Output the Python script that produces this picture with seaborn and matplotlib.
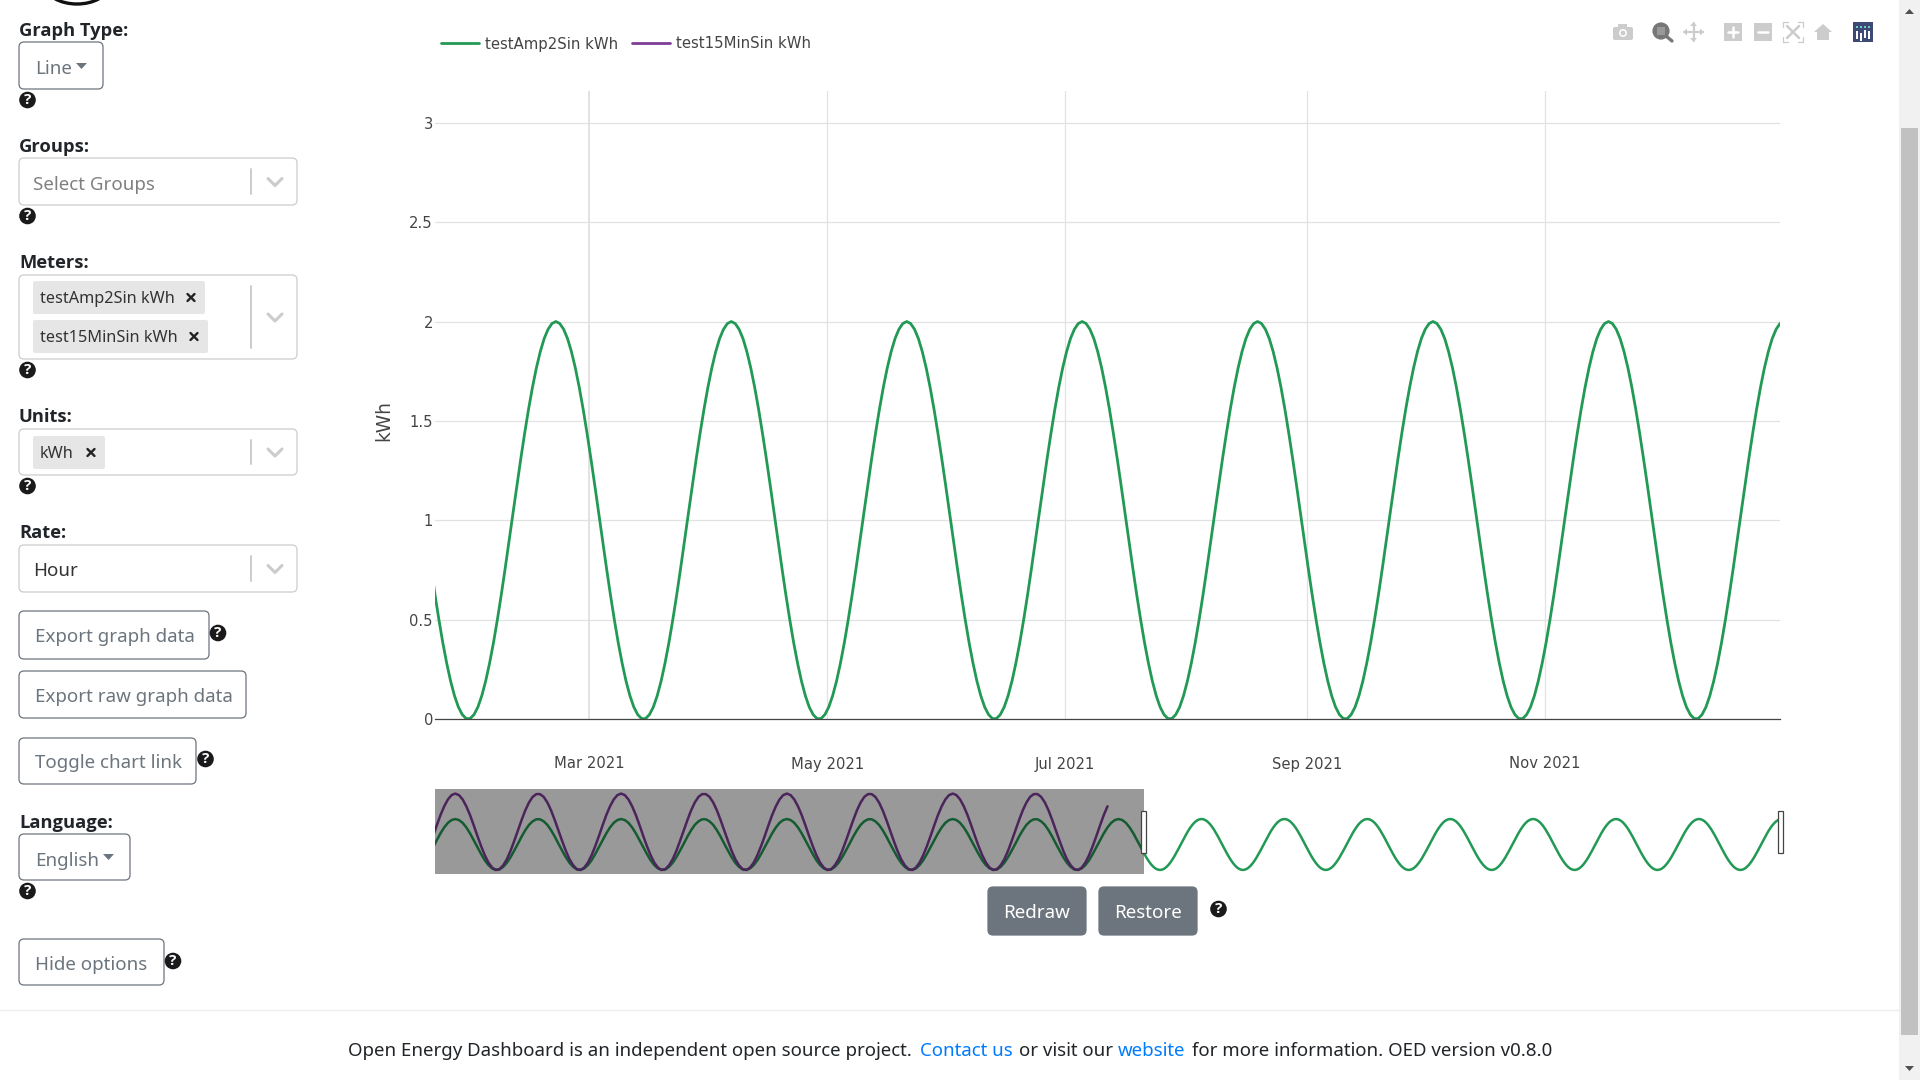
import matplotlib
matplotlib.use('Agg')
import matplotlib.pyplot as plt
from matplotlib.patches import FancyBboxPatch, Rectangle, Circle, Polygon, Ellipse
import pandas as pd
import seaborn as sns

# values
# green meter, range slider part: one sample every 2 days from 2019-12-31
amp2_early_kwh = [
    0.90, 1.17, 1.44, 1.67, 1.85, 1.96,
    2.00, 1.96, 1.85, 1.67, 1.44, 1.17, 0.90, 0.63, 0.38, 0.19, 0.06, 0.00, 0.02, 0.12, 0.28, 0.50, 0.76, 1.03, 1.31, 1.56, 1.77, 1.91, 1.99, 1.99, 1.91, 1.77, 1.56, 1.31, 1.03, 0.76, 0.50, 0.28, 0.12, 0.02, 0.00, 0.06, 0.19, 0.38, 0.63, 0.90, 1.17, 1.44, 1.67, 1.85, 1.96,
    2.00, 1.96, 1.85, 1.67, 1.44, 1.17, 0.90, 0.63, 0.38, 0.19, 0.06, 0.00, 0.02, 0.12, 0.28, 0.50, 0.76, 1.03, 1.31, 1.56, 1.77, 1.91, 1.99, 1.99, 1.91, 1.77, 1.56, 1.31, 1.03, 0.76, 0.50, 0.28, 0.12, 0.02, 0.00, 0.06, 0.19, 0.38, 0.63, 0.90, 1.17, 1.44, 1.67, 1.85, 1.96,
    2.00, 1.96, 1.85, 1.67, 1.44, 1.17, 0.90, 0.63, 0.38, 0.19, 0.06, 0.00, 0.02, 0.12, 0.28, 0.50, 0.76, 1.03, 1.31, 1.56, 1.77, 1.91, 1.99, 1.99, 1.91, 1.77, 1.56, 1.31, 1.03, 0.76, 0.50, 0.28, 0.12, 0.02, 0.00, 0.06, 0.19, 0.38, 0.63, 0.90, 1.17, 1.44, 1.67, 1.85, 1.96,
    2.00, 1.96, 1.85, 1.67, 1.44, 1.17, 0.90, 0.63, 0.38, 0.19, 0.06, 0.00, 0.02, 0.12, 0.28, 0.50, 0.76, 1.03, 1.31, 1.56, 1.77, 1.91, 1.99, 1.99, 1.91, 1.77, 1.56, 1.31, 1.03, 0.76, 0.50, 0.28, 0.12, 0.02, 0.00, 0.06, 0.19, 0.38, 0.63, 0.90, 1.17, 1.44, 1.67, 1.85, 1.96,
    2.00, 1.96, 1.85, 1.67, 1.44, 1.17, 0.90,
]
# green meter, zoomed window: one sample a day from 2021-01-20
amp2_late_kwh = [
    0.625, 0.500, 0.384, 0.281, 0.191, 0.117, 0.060, 0.022, 0.002, 0.002, 0.022, 0.060, 0.117, 0.191, 0.281, 0.384, 0.500, 0.625, 0.758, 0.895, 1.035, 1.174, 1.309, 1.438, 1.559, 1.669, 1.766, 1.848, 1.914, 1.961, 1.990,
    2.000, 1.990, 1.961, 1.914, 1.848, 1.766, 1.669, 1.559, 1.438, 1.309, 1.174, 1.035, 0.895, 0.758, 0.625, 0.500, 0.384, 0.281, 0.191, 0.117, 0.060, 0.022, 0.002, 0.002, 0.022, 0.060, 0.117, 0.191, 0.281, 0.384, 0.500, 0.625, 0.758, 0.895, 1.035, 1.174, 1.309, 1.438, 1.559, 1.669, 1.766, 1.848, 1.914, 1.961, 1.990,
    2.000, 1.990, 1.961, 1.914, 1.848, 1.766, 1.669, 1.559, 1.438, 1.309, 1.174, 1.035, 0.895, 0.758, 0.625, 0.500, 0.384, 0.281, 0.191, 0.117, 0.060, 0.022, 0.002, 0.002, 0.022, 0.060, 0.117, 0.191, 0.281, 0.384, 0.500, 0.625, 0.758, 0.895, 1.035, 1.174, 1.309, 1.438, 1.559, 1.669, 1.766, 1.848, 1.914, 1.961, 1.990,
    2.000, 1.990, 1.961, 1.914, 1.848, 1.766, 1.669, 1.559, 1.438, 1.309, 1.174, 1.035, 0.895, 0.758, 0.625, 0.500, 0.384, 0.281, 0.191, 0.117, 0.060, 0.022, 0.002, 0.002, 0.022, 0.060, 0.117, 0.191, 0.281, 0.384, 0.500, 0.625, 0.758, 0.895, 1.035, 1.174, 1.309, 1.438, 1.559, 1.669, 1.766, 1.848, 1.914, 1.961, 1.990,
    2.000, 1.990, 1.961, 1.914, 1.848, 1.766, 1.669, 1.559, 1.438, 1.309, 1.174, 1.035, 0.895, 0.758, 0.625, 0.500, 0.384, 0.281, 0.191, 0.117, 0.060, 0.022, 0.002, 0.002, 0.022, 0.060, 0.117, 0.191, 0.281, 0.384, 0.500, 0.625, 0.758, 0.895, 1.035, 1.174, 1.309, 1.438, 1.559, 1.669, 1.766, 1.848, 1.914, 1.961, 1.990,
    2.000, 1.990, 1.961, 1.914, 1.848, 1.766, 1.669, 1.559, 1.438, 1.309, 1.174, 1.035, 0.895, 0.758, 0.625, 0.500, 0.384, 0.281, 0.191, 0.117, 0.060, 0.022, 0.002, 0.002, 0.022, 0.060, 0.117, 0.191, 0.281, 0.384, 0.500, 0.625, 0.758, 0.895, 1.035, 1.174, 1.309, 1.438, 1.559, 1.669, 1.766, 1.848, 1.914, 1.961, 1.990,
    2.000, 1.990, 1.961, 1.914, 1.848, 1.766, 1.669, 1.559, 1.438, 1.309, 1.174, 1.035, 0.895, 0.758, 0.625, 0.500, 0.384, 0.281, 0.191, 0.117, 0.060, 0.022, 0.002, 0.002, 0.022, 0.060, 0.117, 0.191, 0.281, 0.384, 0.500, 0.625, 0.758, 0.895, 1.035, 1.174, 1.309, 1.438, 1.559, 1.669, 1.766, 1.848, 1.914, 1.961, 1.990,
    2.000, 1.990, 1.961, 1.914, 1.848, 1.766, 1.669, 1.559, 1.438, 1.309, 1.174, 1.035, 0.895, 0.758, 0.625, 0.500, 0.384, 0.281, 0.191, 0.117, 0.060, 0.022, 0.002, 0.002, 0.022, 0.060, 0.117, 0.191, 0.281, 0.384, 0.500, 0.625, 0.758, 0.895, 1.035, 1.174, 1.309, 1.438, 1.559, 1.669, 1.766, 1.848, 1.914, 1.961, 1.990,
    2.000,
]
# purple meter, only in the slider: one sample every 2 days from 2019-12-31
min15_kwh = [
    1.34, 1.76, 2.16, 2.50, 2.77, 2.94,
    3.00, 2.94, 2.77, 2.50, 2.16, 1.76, 1.34, 0.94, 0.58, 0.29, 0.09, 0.00, 0.03, 0.18, 0.42, 0.75, 1.14, 1.55, 1.96, 2.34, 2.65, 2.87, 2.98, 2.98, 2.87, 2.65, 2.34, 1.96, 1.55, 1.14, 0.75, 0.42, 0.18, 0.03, 0.00, 0.09, 0.29, 0.58, 0.94, 1.34, 1.76, 2.16, 2.50, 2.77, 2.94,
    3.00, 2.94, 2.77, 2.50, 2.16, 1.76, 1.34, 0.94, 0.58, 0.29, 0.09, 0.00, 0.03, 0.18, 0.42, 0.75, 1.14, 1.55, 1.96, 2.34, 2.65, 2.87, 2.98, 2.98, 2.87, 2.65, 2.34, 1.96, 1.55, 1.14, 0.75, 0.42, 0.18, 0.03, 0.00, 0.09, 0.29, 0.58, 0.94, 1.34, 1.76, 2.16, 2.50, 2.77, 2.94,
    3.00, 2.94, 2.77, 2.50, 2.16, 1.76, 1.34, 0.94, 0.58, 0.29, 0.09, 0.00, 0.03, 0.18, 0.42, 0.75, 1.14, 1.55, 1.96, 2.34, 2.65, 2.87, 2.98, 2.98, 2.87, 2.65, 2.34, 1.96, 1.55, 1.14, 0.75, 0.42, 0.18, 0.03, 0.00, 0.09, 0.29, 0.58, 0.94, 1.34, 1.76, 2.16, 2.50, 2.77, 2.94,
    3.00, 2.94, 2.77, 2.50, 2.16, 1.76, 1.34, 0.94, 0.58, 0.29, 0.09, 0.00, 0.03, 0.18, 0.42, 0.75, 1.14, 1.55, 1.96, 2.34, 2.65, 2.87, 2.98, 2.98, 2.87, 2.65, 2.34, 1.96, 1.55, 1.14, 0.75, 0.42, 0.18, 0.03, 0.00, 0.09, 0.29, 0.58, 0.94, 1.34, 1.76, 2.16, 2.50,
]
series_names = ['testAmp2Sin kWh', 'test15MinSin kWh']
y_ticks = [0, 0.5, 1, 1.5, 2, 2.5, 3]
y_tick_labels = ['0', '0.5', '1', '1.5', '2', '2.5', '3']
# month ticks sit a few hours before midnight in the original
x_tick_dates = ['2021-02-28 15:00', '2021-04-30 15:00', '2021-06-30 15:00', '2021-08-31 15:00', '2021-10-31 15:00']
x_tick_labels = ['Mar 2021', 'May 2021', 'Jul 2021', 'Sep 2021', 'Nov 2021']

GREEN = '#229954'
PURPLE = '#7D3C98'
PLOT_FONT = 'DejaVu Sans'
UI_FONT = 'Noto Sans'
BOLD_FONT = 'Open Sans'
W, H = 1920, 1080

df = pd.concat([
    pd.DataFrame({'date': pd.date_range('2019-12-31', periods=len(amp2_early_kwh), freq='2D'),
                  'kWh': amp2_early_kwh, 'meter': series_names[0]}),
    pd.DataFrame({'date': pd.date_range('2021-01-20', periods=len(amp2_late_kwh), freq='D'),
                  'kWh': amp2_late_kwh, 'meter': series_names[0]}),
    pd.DataFrame({'date': pd.date_range('2019-12-31', periods=len(min15_kwh), freq='2D'),
                  'kWh': min15_kwh, 'meter': series_names[1]}),
])
palette = {series_names[0]: GREEN, series_names[1]: PURPLE}

sns.set_theme(style='white')
plt.rcParams['font.family'] = [PLOT_FONT]

fig = plt.figure(figsize=(W / 100, H / 100), dpi=100, facecolor='white')


def px_axes(x0, y0, x1, y1):
    return fig.add_axes([x0 / W, 1 - y1 / H, (x1 - x0) / W, (y1 - y0) / H])


# main plot
ax = px_axes(435, 91, 1780, 719)
sns.lineplot(data=df, x='date', y='kWh', hue='meter', palette=palette, hue_order=series_names,
             estimator=None, errorbar=None, linewidth=2.0, ax=ax)
ax.set_xlim(pd.Timestamp('2021-01-20'), pd.Timestamp('2021-12-31'))
ax.set_ylim(0, 3.16)
ax.set_yticks(y_ticks)
ax.set_yticklabels(y_tick_labels)
ax.set_xticks(pd.to_datetime(x_tick_dates))
ax.set_xticklabels(x_tick_labels)
ax.tick_params(axis='y', length=0, pad=1.5, labelsize=10.6, labelcolor='#444444')
ax.tick_params(axis='x', length=0, pad=27, labelsize=10.6, labelcolor='#444444')
ax.set_axisbelow(True)
ax.grid(True, color='#e2e2e2', linewidth=0.9)
ax.get_xgridlines()[0].set_linewidth(1.4)
ax.set_xlabel('')
ax.set_ylabel('kWh', fontsize=13.4, color='#444444', labelpad=11.5, y=0.475)
for name in ['top', 'right', 'left']:
    ax.spines[name].set_visible(False)
ax.spines['bottom'].set_color('#444444')
ax.spines['bottom'].set_linewidth(0.9)
handles, labels = ax.get_legend_handles_labels()
ax.legend(handles, labels, loc='center left', bbox_to_anchor=(441 / W, 1 - 44 / H),
          bbox_transform=fig.transFigure, ncols=2, frameon=False, fontsize=10.75,
          labelcolor='#444444', handlelength=2.55, handletextpad=0.38, columnspacing=0.95,
          borderpad=0, borderaxespad=0)

# range slider
ax2 = px_axes(435, 789, 1780, 874)
sns.lineplot(data=df, x='date', y='kWh', hue='meter', palette=palette, hue_order=series_names,
             estimator=None, errorbar=None, linewidth=1.8, legend=False, ax=ax2)
ax2.set_xlim(pd.Timestamp('2020-01-01'), pd.Timestamp('2021-12-31'))
ax2.set_ylim(-0.16, 3.18)
ax2.axvspan(pd.Timestamp('2020-01-01'), pd.Timestamp('2021-01-20'), color='black', alpha=0.4, lw=0, zorder=5)
ax2.set_xlabel('')
ax2.set_ylabel('')
ax2.set_xticks([])
ax2.set_yticks([])
for name in ax2.spines:
    ax2.spines[name].set_visible(False)

# page around the chart, in screen pixels
ui = fig.add_axes([0, 0, 1, 1], facecolor='none')
ui.set_xlim(0, W)
ui.set_ylim(H, 0)
ui.axis('off')


def box(x0, y0, x1, y1, edge='#6c757d', fill='white', r=5, lw=0.9):
    ui.add_patch(FancyBboxPatch((x0, y0), x1 - x0, y1 - y0, boxstyle=f'round,pad=0,rounding_size={r}',
                                edgecolor=edge, facecolor=fill, linewidth=lw))


def txt(x, y, s, color='#6c757d', size=13.5, weight='normal', ha='left', family=UI_FONT):
    ui.text(x, y + 2.5, s, color=color, fontsize=size, fontweight=weight, ha=ha, va='center', family=family)


def label(y, s):
    txt(19, y, s, color='#212529', size=13.2, weight='bold', family=BOLD_FONT)


def help_icon(x, y):
    ui.add_patch(Circle((x, y), 8.3, facecolor='#1a1a1a', edgecolor='none'))
    ui.text(x, y, '?', color='white', fontsize=11, fontweight='bold', ha='center', va='center',
            family=BOLD_FONT)


def caret(x, y):
    ui.add_patch(Polygon([(x, y), (x + 11, y), (x + 5.5, y + 6)], facecolor='#6c757d', edgecolor='none'))


def select_box(y0, y1):
    box(19, y0, 297, y1, edge='#cccccc')
    cy = (y0 + y1) / 2
    ui.plot([251, 251], [y0 + 11, y1 - 11], color='#cccccc', lw=1.4)
    ui.plot([268, 275, 282], [cy - 3, cy + 4, cy - 3], color='#cccccc', lw=2.2)


def chip(x0, y0, x1, y1, s, xmark):
    ui.add_patch(FancyBboxPatch((x0, y0), x1 - x0, y1 - y0, boxstyle='round,pad=0,rounding_size=2',
                                edgecolor='none', facecolor='#e6e6e6'))
    cy = (y0 + y1) / 2
    txt(x0 + 7, cy - 1, s, color='#333333', size=11.7)
    ui.plot([xmark - 3.5, xmark + 3.5], [cy - 3.5, cy + 3.5], color='#222222', lw=1.7)
    ui.plot([xmark - 3.5, xmark + 3.5], [cy + 3.5, cy - 3.5], color='#222222', lw=1.7)


ui.add_patch(Ellipse((77, -14), 62, 36, facecolor='none', edgecolor='#111111', linewidth=2.4))

label(28, 'Graph Type:')
box(19, 42, 103, 89)
txt(35, 66, 'Line')
caret(76, 63)
help_icon(27.5, 100)

label(144, 'Groups:')
select_box(158, 205)
txt(33, 183, 'Select Groups', color='#808080')
help_icon(27.5, 216)

label(261, 'Meters:')
select_box(275, 359)
chip(33, 281, 205, 314, 'testAmp2Sin kWh', 191)
chip(33, 320, 208, 353, 'test15MinSin kWh', 194)
help_icon(27.5, 370)

label(415, 'Units:')
select_box(429, 475)
chip(33, 436, 105, 469, 'kWh', 91)
help_icon(27.5, 486)

label(531, 'Rate:')
select_box(545, 592)
txt(33, 569, 'Hour', color='#333333')

box(19, 611, 209, 659)
txt(35, 635, 'Export graph data')
help_icon(218, 633)
box(19, 671, 246, 718)
txt(35, 695, 'Export raw graph data')
box(19, 738, 196, 784)
txt(35, 761, 'Toggle chart link')
help_icon(205.5, 759)

label(820, 'Language:')
box(19, 834, 130, 880)
txt(35, 858, 'English')
caret(103, 854)
help_icon(27.5, 891)

box(19, 939, 164, 985)
txt(35, 963, 'Hide options')
help_icon(173, 961)

# slider handles
for x0 in [1141, 1778]:
    ui.add_patch(Rectangle((x0, 811), 5, 42, facecolor='white', edgecolor='#444444', linewidth=0.9))

box(988, 887, 1086, 935, edge='#6c757d', fill='#6c757d')
txt(1037, 910.5, 'Redraw', color='white', ha='center')
box(1099, 887, 1197, 935, edge='#6c757d', fill='#6c757d')
txt(1148, 910.5, 'Restore', color='white', ha='center')
help_icon(1218.5, 909)

# footer
ui.plot([0, 1899], [1010, 1010], color='#eeeeee', lw=1)
txt(348, 1049, 'Open Energy Dashboard is an independent open source project.', color='#212529', size=13.45)
txt(920, 1049, 'Contact us', color='#007bff', size=13.45)
txt(1019, 1049, 'or visit our', color='#212529', size=13.45)
txt(1118, 1049, 'website', color='#007bff', size=13.45)
txt(1192, 1049, 'for more information. OED version v0.8.0', color='#212529', size=13.45)

# scrollbar
ui.add_patch(Rectangle((1899, 0), 21, H, facecolor='#f1f1f1', edgecolor='none'))
ui.add_patch(Rectangle((1901, 128), 17, 907, facecolor='#c1c1c1', edgecolor='none'))
ui.add_patch(Polygon([(1905, 14), (1914, 14), (1909.5, 9)], facecolor='#505050', edgecolor='none'))
ui.add_patch(Polygon([(1905, 1066), (1914, 1066), (1909.5, 1071)], facecolor='#505050', edgecolor='none'))

# plotly toolbar
LIGHT = '#cccccc'
ui.add_patch(FancyBboxPatch((1613, 27), 20, 13, boxstyle='round,pad=0,rounding_size=2', facecolor=LIGHT, edgecolor='none'))
ui.add_patch(Rectangle((1618, 24), 9, 4, facecolor=LIGHT, edgecolor='none'))
ui.add_patch(Circle((1623, 33), 4, facecolor='white', edgecolor='none'))
ui.add_patch(Circle((1623, 33), 2.4, facecolor=LIGHT, edgecolor='none'))
ui.add_patch(Circle((1661, 31), 8.6, facecolor='#777777', edgecolor='none'))
ui.add_patch(Rectangle((1657, 27), 8, 8, facecolor='#999999', edgecolor='none'))
ui.plot([1666, 1672], [36, 41], color='#777777', lw=2.4)
ui.plot([1684, 1703], [32, 32], color=LIGHT, lw=1.6)
ui.plot([1693.5, 1693.5], [23, 41], color=LIGHT, lw=1.6)
for pts in ([(1683, 32), (1687, 28.5), (1687, 35.5)], [(1704, 32), (1700, 28.5), (1700, 35.5)],
            [(1693.5, 22), (1690, 26), (1697, 26)], [(1693.5, 42), (1690, 38), (1697, 38)]):
    ui.add_patch(Polygon(pts, facecolor=LIGHT, edgecolor='none'))
ui.add_patch(Rectangle((1724, 23), 18, 18, facecolor=LIGHT, edgecolor='none'))
ui.plot([1728, 1738], [32, 32], color='white', lw=1.8)
ui.plot([1733, 1733], [27, 37], color='white', lw=1.8)
ui.add_patch(Rectangle((1754, 23), 18, 18, facecolor=LIGHT, edgecolor='none'))
ui.plot([1758, 1768], [32, 32], color='white', lw=1.8)
for cx, cy, dx, dy in [(1783, 22, 1, 1), (1803, 22, -1, 1), (1783, 42, 1, -1), (1803, 42, -1, -1)]:
    ui.plot([cx, cx + 5 * dx], [cy, cy], color=LIGHT, lw=0.9)
    ui.plot([cx, cx], [cy, cy + 5 * dy], color=LIGHT, lw=0.9)
ui.plot([1787, 1799], [26, 38], color=LIGHT, lw=1.8)
ui.plot([1787, 1799], [38, 26], color=LIGHT, lw=1.8)
ui.add_patch(Polygon([(1814, 32), (1823, 24), (1832, 32), (1829, 32), (1829, 40), (1817, 40), (1817, 32)],
                     facecolor=LIGHT, edgecolor='none'))
ui.add_patch(Rectangle((1853, 22), 20, 20, facecolor='#3d4a75', edgecolor='none'))
for x0, top in [(1857, 31), (1861, 33), (1865, 30), (1869, 31)]:
    ui.add_patch(Rectangle((x0 - 0.6, top), 1.6, 8, facecolor='white', edgecolor='none'))
    ui.add_patch(Rectangle((x0 - 0.6, 26), 1.6, 1.6, facecolor='#6fcfc0', edgecolor='none'))

fig.savefig('out.png', dpi=100)
